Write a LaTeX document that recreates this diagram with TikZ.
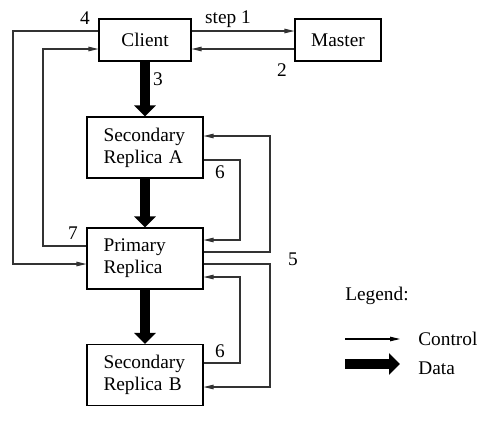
\documentclass[tikz,border=0pt]{standalone}
\usepackage{fontspec}
\setmainfont{Liberation Serif}
\usepackage{tikz}
\usetikzlibrary{positioning, arrows.meta, calc}

\begin{document}
\begin{tikzpicture}[
  x=0.02cm, y=-0.02cm,
  font=\rmfamily\fontsize{11}{12.5}\selectfont,
  box/.style={draw, line width=0.6pt, align=center, inner sep=0pt},
  replica/.style={box, align=left, text width=1.66cm, inner xsep=0.33cm,
    minimum height=1.22cm},
  ctrl/.style={-{Triangle[length=0.2cm, width=0.09cm]}, draw=black!80, line width=0.6pt},
  data/.style={-{Triangle[length=0.22cm, width=0.42cm]}, line width=0.2cm},
  lbl/.style={inner sep=0pt},
]
  \useasboundingbox (0,0) rectangle (497,423);

  \node[box, minimum width=1.84cm, minimum height=0.84cm] (client) at (145,40) {Client};
  \node[box, minimum width=1.72cm, minimum height=0.84cm] (master) at (338,40) {Master};
  \node[replica] (secA)    at (145,147.5) {Secondary \\ Replica A};
  \node[replica] (primary) at (145,258.5) {Primary \\ Replica};
  \node[replica] (secB)    at (145,375)   {Secondary \\ Replica B};

  % data flow
  \draw[data] (client) -- (secA);
  \draw[data] (secA) -- (primary);
  \draw[data] (primary) -- (secB);

  % control flow
  \draw[ctrl] (client.east |- 0,31) -- (master.west |- 0,31);
  \draw[ctrl] (master.west |- 0,49) -- (client.east |- 0,49);
  \draw[ctrl] (client.west |- 0,31) -| (13,264) -- (primary.west |- 0,264);
  \draw[ctrl] (primary.west |- 0,246) -| (43,49) -- (client.west |- 0,49);
  \draw[ctrl] (secA.east |- 0,160) -| (240,240) -- (primary.east |- 0,240);
  \draw[ctrl] (primary.east |- 0,252) -| (270,136) -- (secA.east |- 0,136);
  \draw[ctrl] (primary.east |- 0,264) -| (270,387) -- (secB.east |- 0,387);
  \draw[ctrl] (secB.east |- 0,363) -| (240,277) -- (primary.east |- 0,277);

  \node[lbl] (s1) at (228,19) {step 1};
  \node[lbl] (s2) at (282,70) {2};
  \node[lbl] (s3) at (158,79) {3};
  \node[lbl] (s4) at (85,18) {4};
  \node[lbl] (s5) at (293,259) {5};
  \node[lbl] (s6a) at (220,172) {6};
  \node[lbl] (s6b) at (220,351) {6};
  \node[lbl] (s7) at (73,233) {7};

  % legend
  \node[lbl, anchor=west] (legend) at (345,296) {Legend:};
  \coordinate (ctrlA) at (345,339);
  \coordinate (ctrlB) at (400,339);
  \draw[ctrl, draw=black] (ctrlA) -- (ctrlB);
  \node[lbl, anchor=west] (ctrltxt) at (418,339) {Control};
  \coordinate (dataA) at (345,364);
  \coordinate (dataB) at (400,364);
  \draw[data] (dataA) -- (dataB);
  \node[lbl, anchor=west] (datatxt) at (418,368) {Data};
\end{tikzpicture}
\end{document}
